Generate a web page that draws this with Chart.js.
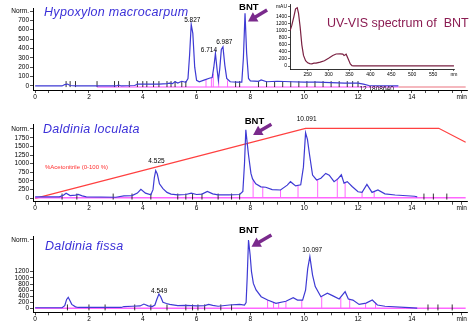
<!DOCTYPE html>
<html>
<head>
<meta charset="utf-8">
<script src="https://cdn.jsdelivr.net/npm/chart.js@4/dist/chart.umd.min.js"></script>
<style>
body { margin: 0; background: #fff; }
#wrap { position: relative; width: 474px; height: 323px; overflow: hidden; font-family: Arial, "Liberation Sans", sans-serif; }
canvas { position: absolute; left: 0; top: 0; }
.title { position: absolute; color: #3b30d8; font-style: italic; font-size: 12.5px; line-height: 14px; white-space: nowrap; letter-spacing: 0.3px; }
.uv { position: absolute; color: #8b1c52; font-size: 12.5px; line-height: 14px; white-space: nowrap; }
.acn { position: absolute; color: #ff3030; font-size: 6px; line-height: 7px; white-space: nowrap; }
</style>
</head>
<body>
<div id="wrap">
  <canvas id="hypo" width="474" height="323"></canvas>
  <canvas id="locu" width="474" height="323"></canvas>
  <canvas id="fissa" width="474" height="323"></canvas>
  <canvas id="uvvis" width="474" height="323"></canvas>
  <div class="title" style="left:44px;top:5px">Hypoxylon macrocarpum</div>
  <div class="title" style="left:43px;top:122px">Daldinia loculata</div>
  <div class="title" style="left:45px;top:239px">Daldinia fissa</div>
  <div class="uv" style="left:327px;top:16px">UV-VIS spectrum of&nbsp; BNT</div>
  <div class="acn" style="left:45px;top:164px">%Acetonitrile (0-100 %)</div>
</div>
<script>
// --- Hypoxylon macrocarpum ---
var hypoTime = [0, 1.0, 1.1, 1.2, 1.3, 1.5, 2.3, 3.0, 3.1, 3.2, 3.7, 3.8, 4.6, 4.9, 5.0, 5.1, 5.2, 5.3, 5.45, 5.6, 5.68, 5.74, 5.8, 5.86, 5.93, 6.0, 6.1, 6.3, 6.5, 6.58, 6.64, 6.70, 6.76, 6.81, 6.86, 6.92, 6.98, 7.05, 7.12, 7.25, 7.5, 7.68, 7.74, 7.80, 7.86, 7.93, 8.0, 8.3, 8.4, 8.6, 9.0, 9.5, 10.0, 10.5, 11.0, 11.5, 12.0, 12.2, 12.4, 13.5];
var hypoSignal = [0, 0, 15, 20, 5, 0, 0, 0, 10, 0, 5, 20, 20, 25, 30, 25, 45, 30, 50, 40, 80, 330, 655, 560, 200, 60, 45, 65, 85, 90, 200, 347, 180, 60, 180, 390, 417, 220, 80, 45, 40, 40, 300, 775, 350, 80, 55, 50, 65, 45, 50, 45, 40, 40, 35, 30, 30, 20, 5, 0];
var hypoMarks = [1.15, 1.3, 1.5, 2.3, 2.95, 3.1, 3.5, 3.8, 4.0, 4.15, 4.4, 4.6, 4.9, 5.05, 5.2, 5.45, 5.6, 7.45, 7.6, 8.3, 8.6, 8.9, 9.2, 9.5, 9.8, 10.1, 10.4, 10.7, 11.0, 11.3, 11.6, 11.8, 12.0];
var hypoDropTime = [6.35, 6.55, 6.62, 6.82, 7.15];
var hypoDropTop = [70, 85, 130, 70, 60];
var hypoPeakNames = ['5.827', '6.714', '6.987', 'BNT', '12.1808640'];
var hypoPeakTime = [5.84, 6.46, 7.03, 7.94, 12.69];
var hypoPeakValue = [700, 384, 462, 837, -32];
var hypoYTicks = [0, 100, 200, 300, 400, 500, 600, 700];

// --- Daldinia loculata ---
var locuTime = [0, 0.9, 1.05, 1.15, 1.3, 1.5, 1.6, 1.75, 1.9, 3.0, 3.3, 3.6, 3.8, 3.93, 4.1, 4.3, 4.38, 4.43, 4.48, 4.54, 4.62, 4.75, 4.9, 5.05, 5.3, 5.6, 5.8, 6.0, 6.2, 6.4, 6.6, 6.8, 7.2, 7.6, 7.72, 7.78, 7.83, 7.88, 7.93, 8.02, 8.08, 8.2, 8.39, 8.57, 8.81, 9.12, 9.37, 9.49, 9.68, 9.87, 9.97, 10.05, 10.12, 10.19, 10.31, 10.46, 10.62, 10.8, 10.93, 11.11, 11.25, 11.38, 11.48, 11.6, 11.78, 12.0, 12.15, 12.33, 12.52, 12.74, 13.0, 13.38, 14.1, 14.2];
var locuSignal = [40, 40, 90, 145, 80, 90, 110, 70, 40, 30, 70, 80, 150, 260, 150, 100, 250, 600, 800, 700, 420, 280, 170, 120, 100, 110, 150, 110, 120, 200, 130, 100, 100, 110, 200, 1000, 1980, 1600, 1250, 720, 560, 420, 330, 320, 250, 240, 380, 480, 360, 390, 900, 1890, 1700, 1300, 670, 530, 580, 720, 670, 480, 560, 680, 440, 480, 340, 190, 170, 400, 170, 240, 130, 95, 60, 40];
var locuMarks = [1.0, 1.55, 2.9, 3.6, 4.3, 5.3, 5.6, 5.85, 6.2, 6.8, 7.3, 7.6, 14.45, 14.8, 15.3];
var locuDropTime = [8.1, 8.46, 9.12, 9.77, 10.5, 11.23, 11.52, 12.15, 12.6];
var locuDropTop = [520, 330, 240, 370, 540, 580, 450, 170, 190];
var gradientTime = [0, 10.05, 15.0, 16.0];
var gradientPct = [0, 100, 100, 80];
var locuPeakNames = ['4.525', '10.091', 'BNT'];
var locuPeakTime = [4.51, 10.09, 8.15];
var locuPeakValue = [1058, 2292, 2234];
var locuYTicks = [0, 250, 500, 750, 1000, 1250, 1500, 1750];

// --- Daldinia fissa ---
var fissaTime = [0, 1.0, 1.1, 1.17, 1.23, 1.3, 1.36, 1.5, 1.6, 3.2, 3.3, 3.6, 3.9, 4.04, 4.2, 4.35, 4.45, 4.52, 4.6, 4.67, 4.75, 4.88, 5.0, 5.3, 5.6, 6.0, 6.3, 6.45, 6.6, 6.8, 7.22, 7.6, 7.78, 7.84, 7.88, 7.93, 7.99, 8.04, 8.11, 8.21, 8.4, 8.64, 8.95, 9.32, 9.59, 9.75, 9.94, 10.05, 10.13, 10.21, 10.31, 10.41, 10.62, 10.86, 11.05, 11.3, 11.52, 11.64, 11.81, 12.04, 12.3, 12.53, 12.72, 13.0, 13.9, 14.2];
var fissaSignal = [30, 30, 100, 300, 370, 250, 140, 60, 40, 40, 70, 80, 90, 150, 90, 70, 120, 300, 477, 380, 207, 170, 140, 100, 110, 90, 100, 140, 110, 80, 120, 140, 120, 200, 1000, 2230, 1740, 1200, 820, 610, 390, 280, 175, 240, 357, 280, 280, 600, 1300, 1690, 1090, 715, 390, 500, 425, 315, 550, 315, 280, 140, 180, 280, 120, 80, 32, 20];
var fissaMarks = [1.2, 2.0, 2.6, 3.7, 4.3, 4.9, 5.6, 5.85, 6.05, 6.3, 6.9, 7.3, 14.6, 14.97, 15.5];
var fissaDropTime = [8.64, 8.86, 9.05, 9.32, 9.91, 10.65, 11.36, 11.69, 12.28, 12.65];
var fissaDropTop = [280, 200, 180, 240, 280, 400, 350, 330, 170, 200];
var fissaPeakNames = ['4.549', '10.097', 'BNT'];
var fissaPeakTime = [4.61, 10.3, 7.94];
var fissaPeakValue = [558, 1904, 2553];
var fissaYTicks = [0, 200, 400, 600, 800, 1000, 1200];

// --- UV-VIS spectrum of BNT ---
var uvWavelength = [208, 212, 217, 221, 225, 228, 232, 236, 240, 245, 250, 255, 260, 265, 270, 280, 290, 300, 310, 318, 328, 334, 337, 340, 342, 347, 352, 356, 360, 400, 500, 600];
var uvAbsorbance = [1000, 1150, 1400, 1620, 1650, 1500, 1100, 600, 300, 150, 90, 70, 60, 80, 80, 110, 150, 220, 300, 340, 345, 335, 300, 320, 335, 200, 60, 10, 5, 5, 5, 5];
var uvXTicks = [250, 300, 350, 400, 450, 500, 550];
var uvYTicks = [0, 200, 400, 600, 800, 1000, 1200, 1400];

var minuteTicks = [];
for (var m = 0; m <= 15.5; m += 0.5) minuteTicks.push(m);

var BLUE = '#3e3ad4';
var PINK = '#ff66ff';
var ARROW = '#7a2a8c';

function zip(xs, ys) {
    return xs.map(function (x, i) { return { x: x, y: ys[i] }; });
}

function drops(xs, tops, base) {
    var out = [];
    xs.forEach(function (x, i) {
        out.push({ x: x, y: base }, { x: x, y: tops[i] }, { x: x, y: null });
    });
    return out;
}

var notesPlugin = {
    id: 'notes',
    afterDatasetsDraw: function (chart, args, opts) {
        if (!opts) return;
        var ctx = chart.ctx, xs = chart.scales.x, ys = chart.scales.y;
        ctx.save();
        (opts.arrows || []).forEach(function (a) {
            var x0 = xs.getPixelForValue(a[0]), y0 = ys.getPixelForValue(a[1]);
            var x1 = xs.getPixelForValue(a[2]), y1 = ys.getPixelForValue(a[3]);
            var ang = Math.atan2(y1 - y0, x1 - x0), c = Math.cos(ang), s = Math.sin(ang), head = 9;
            ctx.strokeStyle = ARROW; ctx.fillStyle = ARROW; ctx.lineWidth = 3.5;
            ctx.beginPath(); ctx.moveTo(x0, y0); ctx.lineTo(x1 - c * head * 0.8, y1 - s * head * 0.8); ctx.stroke();
            ctx.beginPath();
            ctx.moveTo(x1, y1);
            ctx.lineTo(x1 - c * head - s * head * 0.6, y1 - s * head + c * head * 0.6);
            ctx.lineTo(x1 - c * head + s * head * 0.6, y1 - s * head - c * head * 0.6);
            ctx.closePath(); ctx.fill();
        });
        var names = opts.names || [];
        names.forEach(function (txt, i) {
            ctx.font = txt === 'BNT' ? 'bold 9.5px Arial' : '6.5px Arial';
            ctx.fillStyle = '#000';
            ctx.textAlign = 'center';
            ctx.textBaseline = 'middle';
            ctx.fillText(txt, xs.getPixelForValue(opts.times[i]), ys.getPixelForValue(opts.values[i]));
        });
        ctx.restore();
    }
};
Chart.register(notesPlugin);

function isEven(v) { return Math.abs(v / 2 - Math.round(v / 2)) < 1e-6; }

function panel(id, p) {
    var scales = {
        x: {
            type: 'linear', min: -0.08, max: 16.05,
            afterBuildTicks: function (s) {
                s.ticks = minuteTicks.map(function (v) { return { value: v }; }).concat([{ value: 15.85 }]);
            },
            afterFit: function (s) { s.height = p.xHeight; },
            ticks: {
                autoSkip: false, maxRotation: 0, minRotation: 0, padding: 0, color: '#000',
                font: { size: 6.5, family: 'Arial' },
                callback: function (v) { return v === 15.85 ? 'min' : (isEven(v) ? String(v) : ''); }
            },
            grid: { drawOnChartArea: false, tickLength: 3, color: '#000', lineWidth: 0.7 },
            border: { color: '#000', width: 1 }
        },
        y: {
            type: 'linear', min: p.yMin, max: p.yMax,
            afterBuildTicks: function (s) {
                s.ticks = p.yTicks.concat([p.normAt]).map(function (v) { return { value: v }; });
            },
            afterFit: function (s) { s.width = 33; },
            ticks: {
                autoSkip: false, padding: 1, color: '#000',
                font: { size: 6.5, family: 'Arial' },
                callback: function (v) { return v === p.normAt ? 'Norm.' : String(v); }
            },
            grid: { drawOnChartArea: false, tickLength: 3, color: '#000', lineWidth: 0.7 },
            border: { color: '#000', width: 1 }
        }
    };
    if (p.pct) {
        scales.yPct = { type: 'linear', display: false, min: p.pct[0], max: p.pct[1] };
    }
    var datasets = [
        { data: zip(p.time, p.signal), borderColor: BLUE, borderWidth: 1.2 },
        { data: drops(p.dropTime, p.dropTop, p.base), borderColor: PINK, borderWidth: 1, spanGaps: false },
        { data: p.marks.map(function (t) { return { x: t, y: p.markAt }; }), showLine: false,
          pointStyle: 'line', pointRotation: 90, pointRadius: 3, pointBorderColor: '#000', pointBorderWidth: 0.8 }
    ].concat(p.extra || []);
    datasets.forEach(function (d) {
        if (d.pointRadius === undefined) d.pointRadius = 0;
        d.fill = false; d.tension = 0;
    });
    return new Chart(document.getElementById(id), {
        type: 'line',
        data: { datasets: datasets },
        options: {
            responsive: false, animation: false, events: [],
            layout: { autoPadding: false, padding: { left: 0, right: 7, top: p.top, bottom: p.bottom } },
            plugins: {
                legend: { display: false }, tooltip: { enabled: false },
                notes: { names: p.names, times: p.times, values: p.values, arrows: p.arrows }
            },
            scales: scales
        }
    });
}

panel('hypo', {
    time: hypoTime, signal: hypoSignal, marks: hypoMarks, markAt: 20,
    dropTime: hypoDropTime, dropTop: hypoDropTop, base: -12,
    yMin: -43, yMax: 831, yTicks: hypoYTicks, normAt: 792,
    top: 8, bottom: 221, xHeight: 12,
    names: hypoPeakNames, times: hypoPeakTime, values: hypoPeakValue,
    arrows: [[8.62, 810, 7.91, 686]],
    extra: [
        { data: [{ x: 2.3, y: -12 }, { x: 13.5, y: -12 }], borderColor: '#ff88ff', borderWidth: 1.5 },
        { data: [{ x: 13.5, y: -12 }, { x: 16, y: -12 }], borderColor: '#f2a0a8', borderWidth: 1.5 }
    ]
});

panel('locu', {
    time: locuTime, signal: locuSignal, marks: locuMarks, markAt: 50,
    dropTime: locuDropTime, dropTop: locuDropTop, base: 15,
    yMin: -98, yMax: 2146, yTicks: locuYTicks, normAt: 2003,
    top: 124, bottom: 109.3, xHeight: 12, pct: [-4.85, 106.2],
    names: locuPeakNames, times: locuPeakTime, values: locuPeakValue,
    arrows: [[8.78, 2139, 8.1, 1829]],
    extra: [
        { data: [{ x: 0, y: 15 }, { x: 16, y: 15 }], borderColor: PINK, borderWidth: 1.5 },
        { data: zip(gradientTime, gradientPct), yAxisID: 'yPct', borderColor: '#ff4040', borderWidth: 1.2 }
    ]
});

panel('fissa', {
    time: fissaTime, signal: fissaSignal, marks: fissaMarks, markAt: 40,
    dropTime: fissaDropTime, dropTop: fissaDropTop, base: 12,
    yMin: -117, yMax: 2358, yTicks: fissaYTicks, normAt: 2230,
    top: 236, bottom: 0, xHeight: 10.7,
    names: fissaPeakNames, times: fissaPeakTime, values: fissaPeakValue,
    arrows: [[8.78, 2390, 8.04, 2011]],
    extra: [
        { data: [{ x: 0, y: 12 }, { x: 16, y: 12 }], borderColor: PINK, borderWidth: 1.5 }
    ]
});

// inset spectrum
new Chart(document.getElementById('uvvis'), {
    type: 'line',
    data: { datasets: [{ data: zip(uvWavelength, uvAbsorbance), borderColor: '#7a2142', borderWidth: 1.2, pointRadius: 0, tension: 0 }] },
    options: {
        responsive: false, animation: false, events: [],
        layout: { autoPadding: false, padding: { left: 270, right: 19.2, top: 3, bottom: 245 } },
        plugins: { legend: { display: false }, tooltip: { enabled: false } },
        scales: {
            x: {
                type: 'linear', min: 207.7, max: 602,
                afterBuildTicks: function (s) { s.ticks = uvXTicks.concat([600]).map(function (v) { return { value: v }; }); },
                afterFit: function (s) { s.height = 9; },
                ticks: { autoSkip: false, maxRotation: 0, padding: 1, color: '#000', font: { size: 5, family: 'Arial' },
                         callback: function (v) { return v === 600 ? 'nm' : String(v); } },
                grid: { drawOnChartArea: false, tickLength: 2, color: '#000', lineWidth: 0.6 },
                border: { color: '#000', width: 0.8 }
            },
            y: {
                type: 'linear', min: -84, max: 1755,
                afterBuildTicks: function (s) { s.ticks = uvYTicks.concat([1680]).map(function (v) { return { value: v }; }); },
                afterFit: function (s) { s.width = 20; },
                ticks: { autoSkip: false, padding: 1, color: '#000', font: { size: 5, family: 'Arial' },
                         callback: function (v) { return v === 1680 ? 'mAU' : String(v); } },
                grid: { drawOnChartArea: false, tickLength: 2, color: '#000', lineWidth: 0.6 },
                border: { color: '#000', width: 0.8 }
            }
        }
    }
});
</script>
</body>
</html>
